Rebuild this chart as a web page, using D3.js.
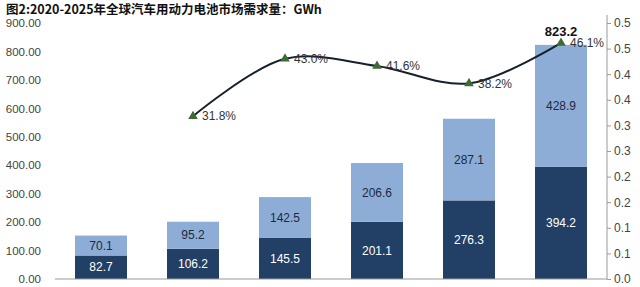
<!DOCTYPE html>
<html>
<head>
<meta charset="utf-8">
<script src="https://cdn.jsdelivr.net/npm/d3@7"></script>
<style>
    body { margin: 0; background: #fff; }
    svg { display: block; }
</style>
</head>
<body>
<div id="chart"></div>
<script>
// data
const years = ["2020", "2021", "2022", "2023", "2024", "2025"];
const lowerValues = [82.7, 106.2, 145.5, 201.1, 276.3, 394.2];
const upperValues = [70.1, 95.2, 142.5, 206.6, 287.1, 428.9];
const totalLabel = "823.2";
const growthYears = ["2021", "2022", "2023", "2024", "2025"];
const growthValues = [0.318, 0.430, 0.416, 0.382, 0.461];
const leftTicks = [0, 100, 200, 300, 400, 500, 600, 700, 800, 900];
const rightTicks = [0, 0.05, 0.1, 0.15, 0.2, 0.25, 0.3, 0.35, 0.4, 0.45, 0.5];
const rightTickLabels = ["0.0", "0.1", "0.1", "0.2", "0.2", "0.3", "0.3", "0.4", "0.4", "0.5", "0.5"];
const title = "图2:2020-2025年全球汽车用动力电池市场需求量：GWh";

const width = 640, height = 287;
const margin = {top: 23, left: 55, right: 33, bottom: 8};

const svg = d3.select("#chart").append("svg")
    .attr("width", width)
    .attr("height", height);

const x = d3.scaleBand()
    .domain(years)
    .range([margin.left, width - margin.right])
    .paddingInner(0.435)
    .paddingOuter(0.2175);

const y = d3.scaleLinear()
    .domain([0, 900])
    .range([height - margin.bottom, margin.top]);

const y2 = d3.scaleLinear()
    .domain([0, 0.5])
    .range([height - margin.bottom, margin.top]);

const numFont = "'Liberation Sans', Arial, sans-serif";

// title
svg.append("text")
    .attr("x", 6)
    .attr("y", 14)
    .attr("font-family", "'Noto Sans CJK SC', sans-serif")
    .attr("font-weight", "bold")
    .attr("font-size", 12.5)
    .attr("fill", "#111")
    .text(title);

// left axis (labels only)
svg.append("g")
    .attr("transform", `translate(${margin.left - 14},0)`)
    .call(d3.axisLeft(y).tickValues(leftTicks).tickSize(0).tickPadding(0).tickFormat(d3.format(".2f")))
    .call(g => g.select(".domain").remove())
    .call(g => g.selectAll("text")
        .attr("font-family", numFont)
        .attr("font-size", 11.5)
        .attr("fill", "#444"));

// bars
const stack = years.map((yr, i) => ({year: yr, lower: lowerValues[i], upper: upperValues[i]}));

const barG = svg.append("g");
barG.selectAll("rect.lower")
    .data(stack)
    .join("rect")
    .attr("class", "lower")
    .attr("x", d => x(d.year))
    .attr("width", x.bandwidth())
    .attr("y", d => y(d.lower))
    .attr("height", d => y(0) - y(d.lower))
    .attr("fill", "#223f66");

barG.selectAll("rect.upper")
    .data(stack)
    .join("rect")
    .attr("class", "upper")
    .attr("x", d => x(d.year))
    .attr("width", x.bandwidth())
    .attr("y", d => y(d.lower + d.upper))
    .attr("height", d => y(d.lower) - y(d.lower + d.upper))
    .attr("fill", "#8eadd6");

// bar labels
const labG = svg.append("g")
    .attr("font-family", numFont)
    .attr("font-size", 12)
    .attr("text-anchor", "middle");

labG.selectAll("text.lower")
    .data(stack)
    .join("text")
    .attr("class", "lower")
    .attr("x", d => x(d.year) + x.bandwidth() / 2)
    .attr("y", d => y(d.lower / 2))
    .attr("dy", "0.35em")
    .attr("fill", "#fff")
    .text(d => d.lower.toFixed(1));

labG.selectAll("text.upper")
    .data(stack)
    .join("text")
    .attr("class", "upper")
    .attr("x", d => x(d.year) + x.bandwidth() / 2)
    .attr("y", d => y(d.lower + d.upper / 2))
    .attr("dy", "0.35em")
    .attr("fill", "#1b2a3f")
    .text(d => d.upper.toFixed(1));

// total label on last bar
const last = stack[stack.length - 1];
svg.append("text")
    .attr("x", x(last.year) + x.bandwidth() / 2)
    .attr("y", y(last.lower + last.upper) - 9)
    .attr("text-anchor", "middle")
    .attr("font-family", numFont)
    .attr("font-weight", "bold")
    .attr("font-size", 13)
    .attr("fill", "#111")
    .text(totalLabel);

// baseline
svg.append("line")
    .attr("x1", margin.left)
    .attr("x2", width - margin.right)
    .attr("y1", y(0))
    .attr("y2", y(0))
    .attr("stroke", "#999")
    .attr("stroke-width", 1);

// right axis
svg.append("g")
    .attr("transform", `translate(${width - margin.right},0)`)
    .call(d3.axisRight(y2).tickValues(rightTicks).tickSize(4).tickPadding(3)
        .tickFormat((d, i) => rightTickLabels[i]))
    .call(g => g.select(".domain").attr("stroke", "#999").attr("d", `M0,${y(0)}V${margin.top - 8}`))
    .call(g => g.selectAll("line").attr("stroke", "#999"))
    .call(g => g.selectAll("text")
        .attr("font-family", numFont)
        .attr("font-size", 12)
        .attr("fill", "#444"));

// growth line
const growth = growthYears.map((yr, i) => ({year: yr, value: growthValues[i]}));
const cx = d => x(d.year) + x.bandwidth() / 2;

svg.append("path")
    .datum(growth)
    .attr("fill", "none")
    .attr("stroke", "#16202c")
    .attr("stroke-width", 2)
    .attr("d", d3.line().x(cx).y(d => y2(d.value)).curve(d3.curveCatmullRom.alpha(0.5)));

svg.append("g")
    .selectAll("path")
    .data(growth)
    .join("path")
    .attr("transform", d => `translate(${cx(d)},${y2(d.value)})`)
    .attr("d", d3.symbol(d3.symbolTriangle, 40))
    .attr("fill", "#3d6b36");

svg.append("g")
    .selectAll("text")
    .data(growth)
    .join("text")
    .attr("x", d => cx(d) + 9)
    .attr("y", d => y2(d.value))
    .attr("dy", "0.35em")
    .attr("font-family", numFont)
    .attr("font-size", 12)
    .attr("fill", "#333")
    .text(d => (d.value * 100).toFixed(1) + "%");
</script>
</body>
</html>
